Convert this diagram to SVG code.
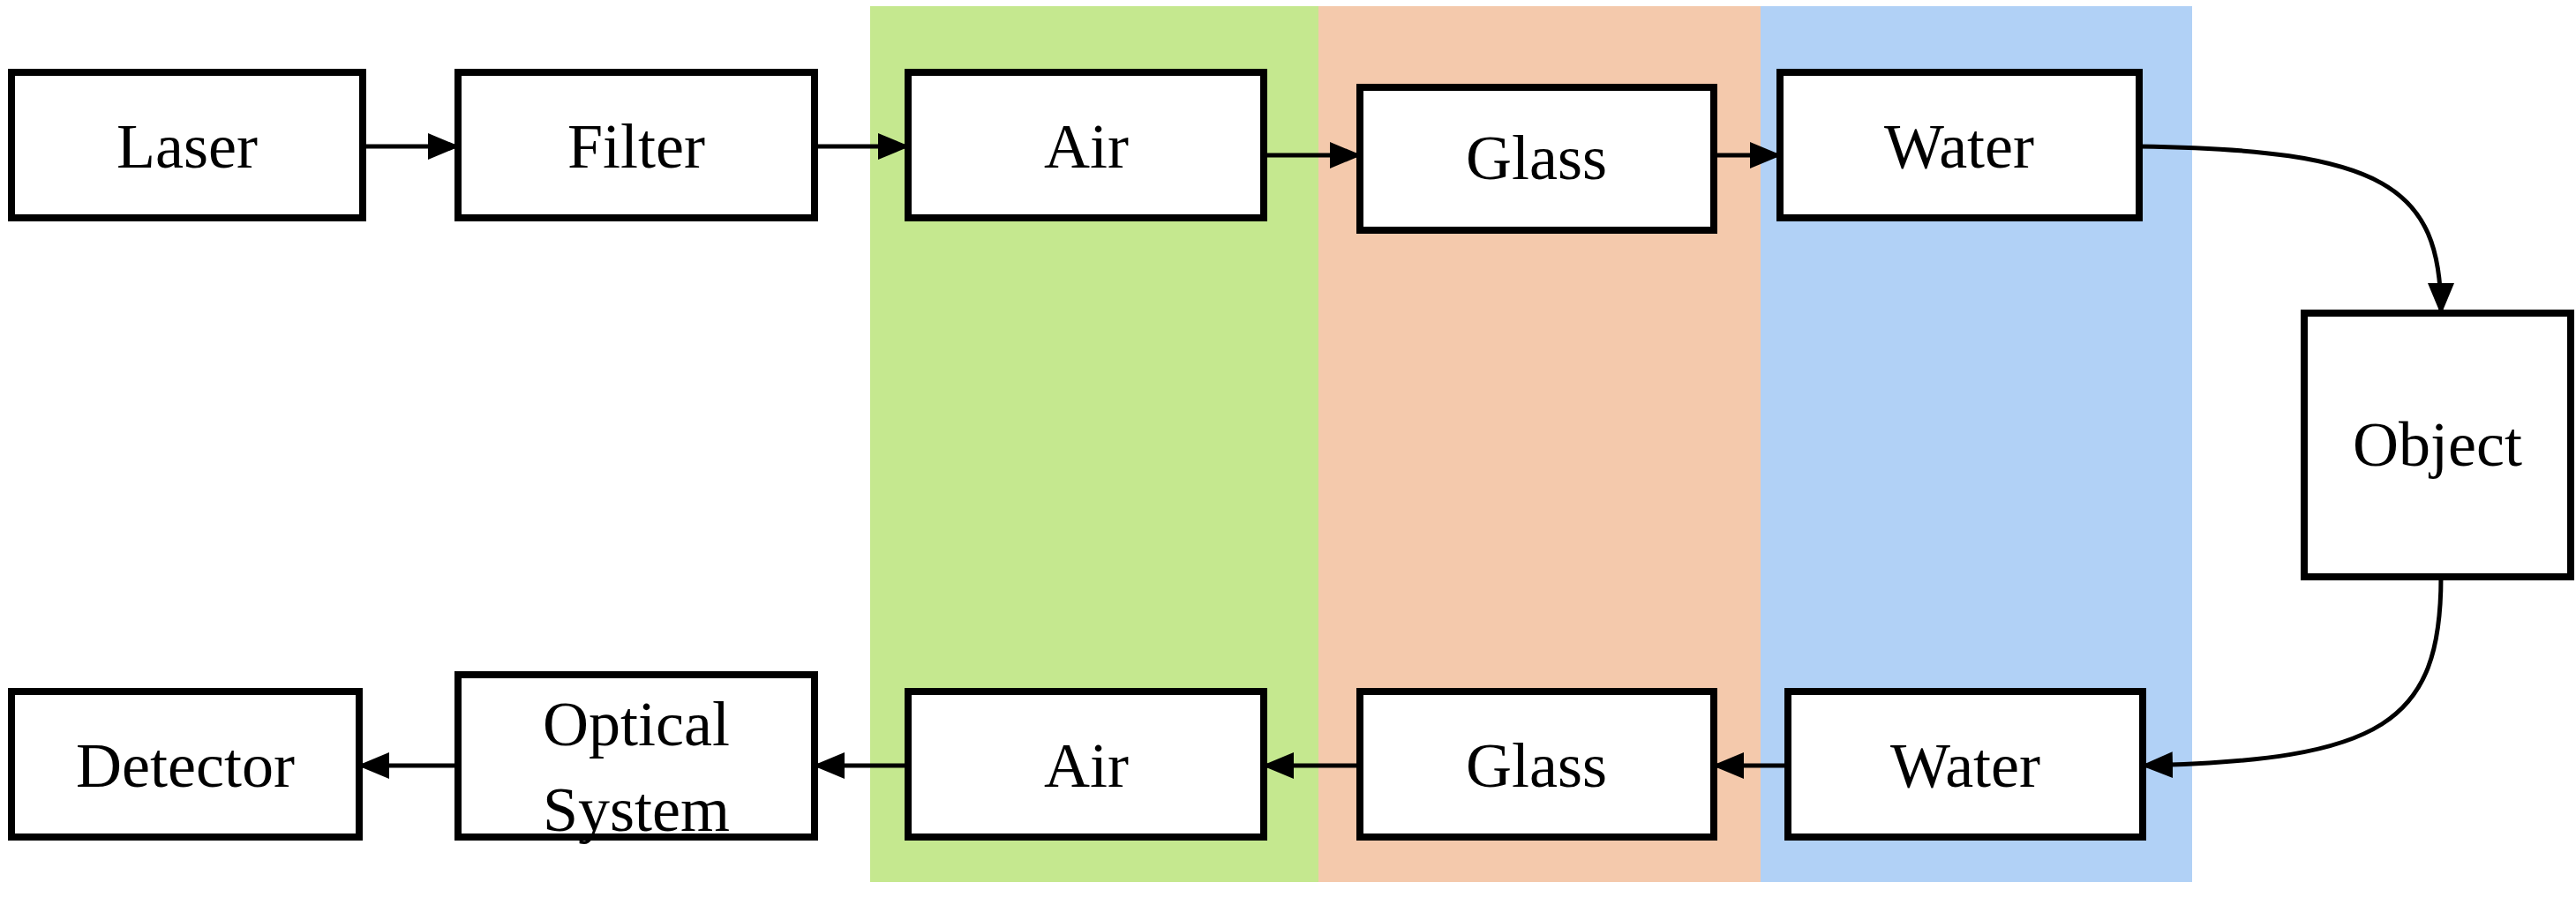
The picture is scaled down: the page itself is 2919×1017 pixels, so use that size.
<svg xmlns="http://www.w3.org/2000/svg" width="2919" height="1017" viewBox="0 0 2919 1017">
<style>
.b{fill:#fff;stroke:#000;stroke-width:8}
.t{font-family:"Liberation Serif",serif;font-size:72px;text-anchor:middle;fill:#000}
.c{fill:none;stroke:#000;stroke-width:5;marker-end:url(#a)}
</style>
<defs><marker id="a" markerUnits="userSpaceOnUse" markerWidth="36" markerHeight="36" refX="34" refY="18" orient="auto"><path d="M0,3 L36,18 L0,33 Z" fill="#000"/></marker></defs>
<rect x="986" y="7" width="508" height="993" fill="#C5E88F"/>
<rect x="1494" y="7" width="501" height="993" fill="#F4C9AC"/>
<rect x="1995" y="7" width="489" height="993" fill="#B1D1F6"/>
<g id="connectors">
<path class="c" d="M411,166 H519"/>
<path class="c" d="M923,166 H1029"/>
<path class="c" d="M1432,176 H1541"/>
<path class="c" d="M1942,176 H2017"/>
<path class="c" d="M2424,166 C2700,170 2766,210 2766,355"/>
<path class="c" d="M2766,654 C2766,820 2700,862 2428,868"/>
<path class="c" d="M2026,868 H1942"/>
<path class="c" d="M1541,868 H1432"/>
<path class="c" d="M1029,868 H923"/>
<path class="c" d="M519,868 H407"/>
</g>
<g id="laser"><rect class="b" x="13" y="82" width="398" height="165"/><text class="t" x="212" y="190">Laser</text></g>
<g id="filter"><rect class="b" x="519" y="82" width="404" height="165"/><text class="t" x="721" y="190">Filter</text></g>
<g id="air1"><rect class="b" x="1029" y="82" width="403" height="165"/><text class="t" x="1231" y="190">Air</text></g>
<g id="glass1"><rect class="b" x="1541" y="99" width="401" height="162"/><text class="t" x="1741" y="203">Glass</text></g>
<g id="water1"><rect class="b" x="2017" y="82" width="407" height="165"/><text class="t" x="2220" y="190">Water</text></g>
<g id="object"><rect class="b" x="2611" y="355" width="302" height="299"/><text class="t" x="2762" y="528">Object</text></g>
<g id="water2"><rect class="b" x="2026" y="784" width="402" height="165"/><text class="t" x="2227" y="892">Water</text></g>
<g id="glass2"><rect class="b" x="1541" y="784" width="401" height="165"/><text class="t" x="1741" y="892">Glass</text></g>
<g id="air2"><rect class="b" x="1029" y="784" width="403" height="165"/><text class="t" x="1231" y="892">Air</text></g>
<g id="optical"><rect class="b" x="519" y="765" width="404" height="184"/><text class="t" x="721" y="845">Optical</text><text class="t" x="721" y="942">System</text></g>
<g id="detector"><rect class="b" x="13" y="784" width="394" height="165"/><text class="t" x="210" y="892">Detector</text></g>
</svg>
